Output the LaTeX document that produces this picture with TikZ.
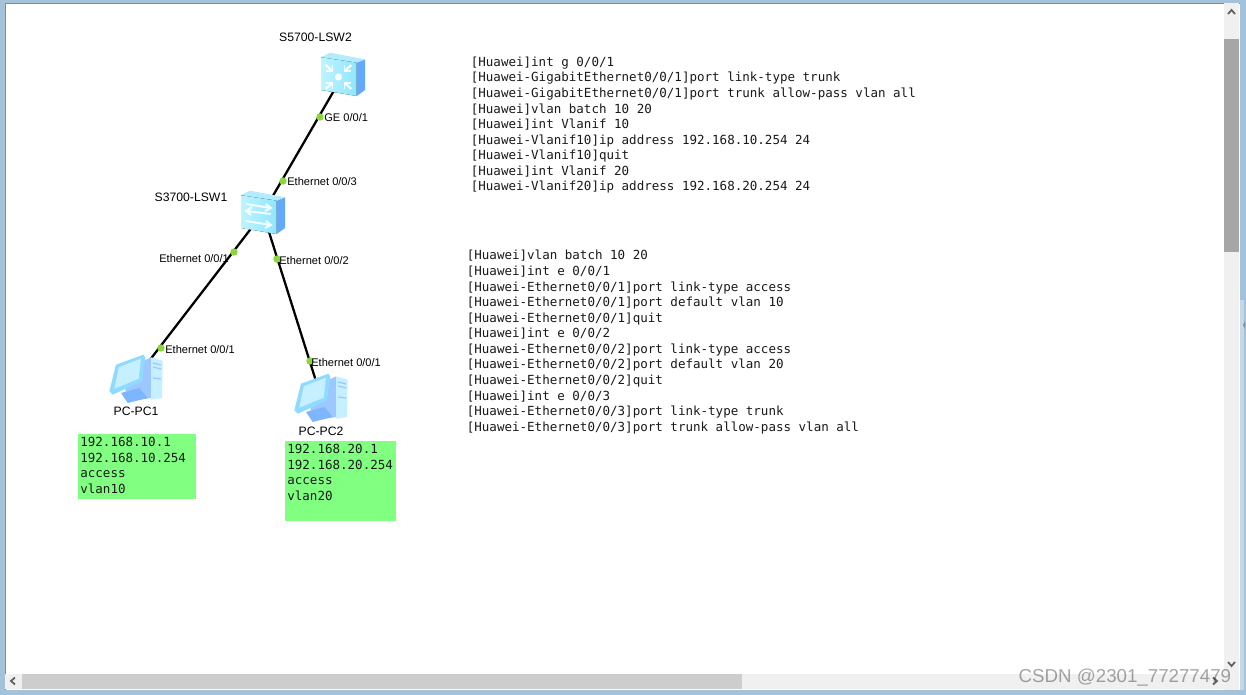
\documentclass[tikz,border=0pt]{standalone}
\usepackage{fontspec}
\setmainfont{Liberation Sans}
\newfontfamily\cfgfont{DejaVu Sans Mono}
\definecolor{framecol}{HTML}{A5C2DB}
\definecolor{edgecol}{HTML}{7F8C99}
\definecolor{trackcol}{HTML}{F0F0F0}
\definecolor{thumbcol}{HTML}{A6A6A6}
\definecolor{hthumbcol}{HTML}{CDCDCD}
\definecolor{chevcol}{HTML}{606060}
\definecolor{portcol}{HTML}{8CD63C}
\definecolor{notecol}{HTML}{80FF80}
\definecolor{faceA}{HTML}{BDF4FF}
\definecolor{faceB}{HTML}{8FE6FF}
\definecolor{sidecol}{HTML}{64A8FF}
\definecolor{pcblue}{HTML}{9CC8FF}
\definecolor{pcsky}{HTML}{8FDBFF}
\definecolor{pcpale}{HTML}{C6EFFF}
\definecolor{pcbase}{HTML}{7DB6FF}
\tikzset{
  dev/.style={inner sep=0pt,minimum size=2pt},
  link/.style={line width=1.3pt,black},
  port/.style={circle,fill=portcol,inner sep=0pt,minimum size=4.2pt},
  portlabel/.style={inner sep=0pt,font=\fontsize{6.3}{7}\selectfont},
  devlabel/.style={inner sep=0pt,font=\fontsize{6.95}{8}\selectfont},
  config/.style={inner sep=0pt,anchor=north west,align=left,text=black!90,
    font=\cfgfont\fontsize{7.13}{8.86}\selectfont},
  note/.style={fill=notecol,inner sep=0pt},
  chev/.style={draw=chevcol,line width=1pt},
  glyph/.style={draw=white,line width=1.1pt,opacity=.9},
  switchbody/.pic={
    \fill[sidecol] (13.7,-12.3) -- (22,-15.7) -- (22,15) -- (13.7,21) -- cycle;
    \fill[faceB!70!white] (-22,-17.7) -- (-13,-22.3) -- (22,-15.7) -- (13.7,-12.3) -- cycle;
    \fill[left color=faceA,right color=faceB] (-22,-17.7) -- (13.7,-12.3) -- (13.7,21) -- (-22,15) -- cycle;
  },
  corepic/.pic={
    \pic {switchbody};
    \fill[white] (-4.5,2) circle (3.6);
    \foreach \dx/\dy in {-1/-1,1/-1,-1/1,1/1}{
      \draw[glyph,line width=1.3pt] (-4.5+13*\dx,2+12*\dy) -- (-4.5+6*\dx,2+6*\dy);
      \draw[glyph] (-4.5+12.5*\dx,2+6*\dy) -- (-4.5+6*\dx,2+6*\dy) -- (-4.5+6*\dx,2+12*\dy);
    }
  },
  accesspic/.pic={
    \pic {switchbody};
    \draw[glyph] (-17,-9) -- (8,-5) (3,-9) -- (8,-5) -- (2,-2);
    \draw[glyph] (8,1) -- (-17,-2) (-11,-6) -- (-17,-2) -- (-12,2);
    \draw[glyph] (-17,8) -- (8,12) (3,8) -- (8,12) -- (2,15);
  },
  pcpic/.pic={
    \fill[pcblue] (-12,5) -- (3.3,-15) -- (15,-20.7) -- (15,20) -- (3.3,21.7) -- (-10,15) -- cycle;
    \fill[pcpale] (15,-20.7) -- (26.7,-17.3) -- (26,20) -- (15,21.7) -- cycle;
    \draw[pcblue,line width=.7pt] (17,-15) -- (25,-13) (17,-11) -- (25,-9) (17,0) -- (25,1);
    \fill[pcbase] (-15,15) -- (3.3,10) -- (11.7,20) -- (-8.3,25) -- cycle;
    \fill[pcsky] (-20,-13.3) -- (7.3,-23.3) -- (9.3,-20.7) -- (6,3.3) -- (-23.3,16.7) -- (-26.7,13.3) -- cycle;
    \fill[pcpale] (-17.3,-10.7) -- (5,-19.3) -- (2.7,.7) -- (-21.7,10.7) -- cycle;
  }
}
\begin{document}
\begin{tikzpicture}[x=0.02cm,y=-0.02cm]
    \useasboundingbox (0,0) rectangle (1246,695);
    \fill[framecol] (0,0) rectangle (1246,695);
    \fill[white] (5,3) rectangle (1240,690);
    \draw[edgecol,line width=.5pt] (5,690) -- (5,3) -- (1240,3);
    \fill[trackcol] (1224,3) rectangle (1239,690);
    \fill[trackcol] (5,674) rectangle (1224,689);
    \fill[thumbcol] (1224,39) rectangle (1239,252);
    \fill[hthumbcol] (22,674) rectangle (742,689);
    \fill[framecol!65!white] (1240,300) rectangle (1244,690);
    \fill[edgecol] (1245,321) -- (1243,325) -- (1245,329) -- cycle;

    \coordinate (upa) at (1231.5,12); \coordinate (upb) at (1231.5,664);
    \coordinate (lfa) at (13,681); \coordinate (rta) at (1215,681);
    \draw[chev] ([shift={(-3.5,2)}]upa) -- ++(3.5,-4) -- ++(3.5,4);
    \draw[chev] ([shift={(-3.5,-2)}]upb) -- ++(3.5,4) -- ++(3.5,-4);
    \draw[chev] ([shift={(2,-3.5)}]lfa) -- ++(-4,3.5) -- ++(4,3.5);
    \draw[chev] ([shift={(-2,-3.5)}]rta) -- ++(4,3.5) -- ++(-4,3.5);

    \node[dev] (lsw2) at (343,75) {}; \node[dev] (lsw1) at (263,213) {};
    \node[dev] (pc1) at (136,378) {}; \node[dev] (pc2) at (321,397) {};

    \path[link] (lsw2) edge node {} (lsw1); \path[link] (lsw1) edge node {} (pc1);
    \path[link] (lsw1) edge node {} (pc2);

    \pic at (lsw2) {corepic}; \pic at (lsw1) {accesspic};
    \pic at (pc1) {pcpic}; \pic at (pc2) {pcpic};

    \node[port] (p1) at (320,117) {}; \node[port] (p2) at (283,181) {};
    \node[port] (p3) at (234,252) {}; \node[port] (p4) at (277,259) {};
    \node[port] (p5) at (161,348) {}; \node[port] (p6) at (310,361) {};

    \node[portlabel,anchor=west] (l1) at (324,118) {GE 0/0/1};
    \node[portlabel,anchor=west] (l2) at (287,182) {Ethernet 0/0/3};
    \node[portlabel,anchor=west] (l3) at (159,259) {Ethernet 0/0/1};
    \node[portlabel,anchor=west] (l4) at (279,261) {Ethernet 0/0/2};
    \node[portlabel,anchor=west] (l5) at (165,350) {Ethernet 0/0/1};
    \node[portlabel,anchor=west] (l6) at (311,363) {Ethernet 0/0/1};

    \node[devlabel] (n1) at (315.5,37) {S5700-LSW2};
    \node[devlabel] (n2) at (191,197) {S3700-LSW1};
    \node[devlabel] (n3) at (136,411.5) {PC-PC1};
    \node[devlabel] (n4) at (321,431.5) {PC-PC2};

    \node[note,minimum width=2.36cm,minimum height=1.3cm,anchor=north west] (b1) at (78,434) {};
    \node[note,minimum width=2.22cm,minimum height=1.6cm,anchor=north west] (b2) at (285,441) {};
    \node[config] (t1) at (80,437) {192.168.10.1\\192.168.10.254\\access\\vlan10};
    \node[config] (t2) at (287,444) {192.168.20.1\\192.168.20.254\\access\\vlan20};

    \node[config] (c1) at (470.5,56.5) {{[}Huawei]int g 0/0/1\\
      {[}Huawei-GigabitEthernet0/0/1]port link-type trunk\\
      {[}Huawei-GigabitEthernet0/0/1]port trunk allow-pass vlan all\\
      {[}Huawei]vlan batch 10 20\\
      {[}Huawei]int Vlanif 10\\
      {[}Huawei-Vlanif10]ip address 192.168.10.254 24\\
      {[}Huawei-Vlanif10]quit\\
      {[}Huawei]int Vlanif 20\\
      {[}Huawei-Vlanif20]ip address 192.168.20.254 24};
    \node[config] (c2) at (466.5,250) {{[}Huawei]vlan batch 10 20\\
      {[}Huawei]int e 0/0/1\\
      {[}Huawei-Ethernet0/0/1]port link-type access\\
      {[}Huawei-Ethernet0/0/1]port default vlan 10\\
      {[}Huawei-Ethernet0/0/1]quit\\
      {[}Huawei]int e 0/0/2\\
      {[}Huawei-Ethernet0/0/2]port link-type access\\
      {[}Huawei-Ethernet0/0/2]port default vlan 20\\
      {[}Huawei-Ethernet0/0/2]quit\\
      {[}Huawei]int e 0/0/3\\
      {[}Huawei-Ethernet0/0/3]port link-type trunk\\
      {[}Huawei-Ethernet0/0/3]port trunk allow-pass vlan all};

    \node[inner sep=0pt,anchor=east,text=black,opacity=.35,font=\fontsize{10.65}{12}\selectfont] (mark) at (1231.5,677.5) {CSDN @2301\_77277479};
\end{tikzpicture}
\end{document}
